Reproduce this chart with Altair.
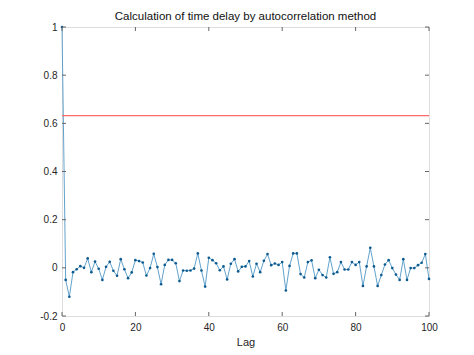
import altair as alt
import pandas as pd

lags = list(range(0, 101))
acf = [1.0, -0.05, -0.12, -0.018, -0.006, 0.007, 0.0, 0.039, -0.018, 0.026,
       -0.004, -0.05, 0.004, 0.025, -0.012, -0.033, 0.036, -0.006, -0.043, -0.019,
       0.032, 0.028, 0.022, -0.032, -0.001, 0.058, 0.003, -0.068, 0.012, 0.033,
       0.033, 0.019, -0.055, -0.011, -0.012, -0.011, -0.003, 0.06, -0.011, -0.078,
       0.042, 0.032, 0.019, -0.01, 0.006, -0.048, 0.017, 0.036, -0.015, 0.004,
       0.006, 0.028, -0.036, 0.017, -0.018, 0.029, 0.057, 0.011, 0.018, 0.012,
       0.024, -0.094, 0.008, 0.06, 0.06, -0.026, -0.04, 0.024, 0.031, -0.043,
       -0.008, -0.03, -0.04, 0.044, -0.025, -0.018, 0.024, -0.007, -0.007, 0.024,
       0.012, 0.024, -0.075, 0.006, 0.083, 0.006, -0.075, -0.03, 0.014, 0.032,
       -0.001, -0.028, -0.05, 0.036, -0.05, -0.001, -0.001, 0.011, 0.021, 0.057,
       -0.046]
threshold = 0.632
x_ticks = [0, 20, 40, 60, 80, 100]
y_ticks = [-0.2, 0, 0.2, 0.4, 0.6, 0.8, 1]

W, H = 367, 289
df = pd.DataFrame({"lag": lags, "r": acf})
xt = pd.DataFrame({"lag": x_ticks})
yt = pd.DataFrame({"r": y_ticks})

xscale = alt.Scale(domain=[0, 100], nice=False, zero=False)
yscale = alt.Scale(domain=[-0.2, 1], nice=False, zero=False)

axis_common = dict(grid=False, ticks=False, domain=False, labelFont="Liberation Sans",
                   labelFontSize=10, labelColor="#262626", labelFlush=False,
                   labelOverlap=False)
x_axis = alt.Axis(values=x_ticks, title="Lag", titleFont="Liberation Sans",
                  titleFontSize=11, titleFontWeight="normal", titleColor="#262626",
                  labelPadding=6, titlePadding=4, **axis_common)
y_axis = alt.Axis(values=y_ticks, title=None, labelPadding=5,
                  labelExpr="'' + datum.value", **axis_common)

X = alt.X("lag:Q", scale=xscale, axis=x_axis, title="Lag")
Y = alt.Y("r:Q", scale=yscale, axis=y_axis, title=None)

main = alt.Chart(df).mark_line(
    color="#4f97c6", strokeWidth=0.9,
    point=alt.OverlayMarkDef(color="#0d5a8e", filled=True, size=7)
).encode(x=X, y=Y)

red = alt.Chart(pd.DataFrame({"r": [threshold]})).mark_rule(
    color="#ff6a6a", strokeWidth=1.2
).encode(y=Y)

tick_style = dict(color="#666666", strokeWidth=1)
xb = alt.Chart(xt).mark_rule(**tick_style).encode(x=X, y=alt.value(H), y2=alt.value(H - 4))
xtp = alt.Chart(xt).mark_rule(**tick_style).encode(x=X, y=alt.value(0), y2=alt.value(4))
yl = alt.Chart(yt).mark_rule(**tick_style).encode(y=Y, x=alt.value(0), x2=alt.value(4))
yr = alt.Chart(yt).mark_rule(**tick_style).encode(y=Y, x=alt.value(W), x2=alt.value(W - 4))

chart = alt.layer(main, red, xb, xtp, yl, yr).properties(
    width=W, height=H,
    title=alt.Title("Calculation of time delay by autocorrelation method",
                    font="Liberation Sans", fontSize=11.5, fontWeight="normal",
                    color="#111111", anchor="middle", offset=0),
    autosize=alt.AutoSizeParams(type="none"),
    padding={"left": 54, "top": 19, "right": 37, "bottom": 39},
).configure_view(stroke="#6b6b6b", strokeWidth=1).configure(background="white")

chart.save("out.html", embed_options={"renderer": "svg", "actions": False})
